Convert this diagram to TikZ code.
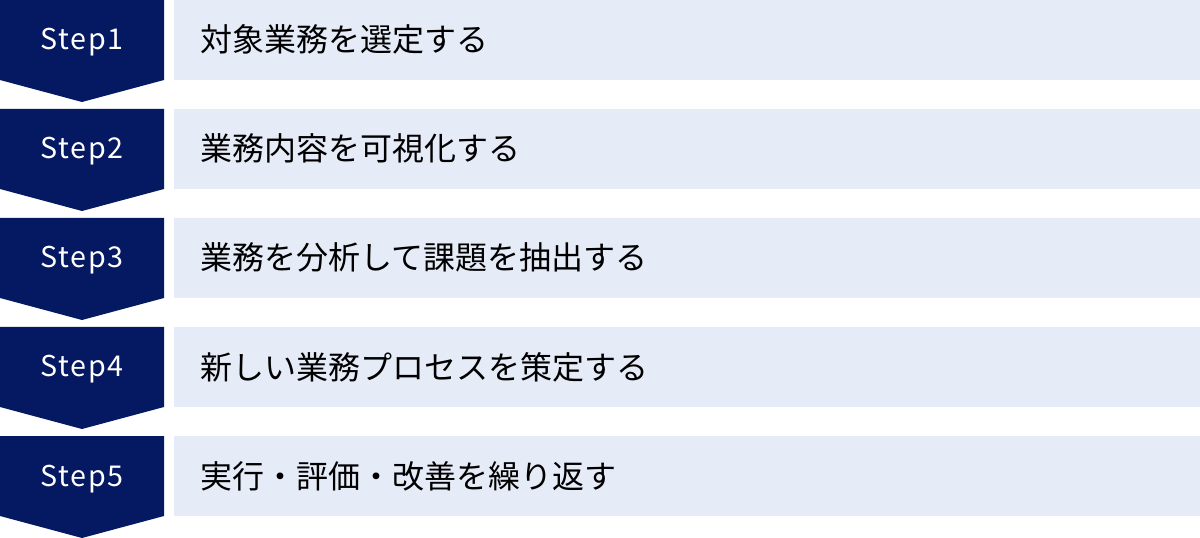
\documentclass[tikz,border=0pt]{standalone}
\usepackage{fontspec}
\setmainfont{Noto Sans CJK JP}
\definecolor{stepnavy}{HTML}{051862}
\definecolor{barblue}{HTML}{E6EBF8}
\begin{document}
\begin{tikzpicture}[x=0.75pt,y=-0.75pt,
  steplabel/.style={text=white, anchor=base, inner sep=0pt,
    font=\fontsize{21.5}{24}\selectfont\addfontfeature{LetterSpace=6}},
  tasklabel/.style={text=black, anchor=base west, inner sep=0pt,
    font=\fontsize{24}{28}\selectfont}]
\useasboundingbox (0,0) rectangle (1200,538);
% five steps, one row each
\foreach \i/\txt in {1/対象業務を選定する,
                     2/業務内容を可視化する,
                     3/業務を分析して課題を抽出する,
                     4/新しい業務プロセスを策定する,
                     5/実行・評価・改善を繰り返す}{
  \pgfmathsetmacro\top{(\i-1)*109}
  \fill[stepnavy] (0,\top) -- (164,\top) -- (164,\top+80) -- (82,\top+102)
    -- (0,\top+80) -- cycle;
  \fill[barblue] (174,\top) rectangle (1200,\top+80);
  \node[steplabel] (step\i) at (82,\top+50) {Step\i};
  \node[tasklabel] (task\i) at (200,\top+52) {\txt};
}
\end{tikzpicture}
\end{document}
